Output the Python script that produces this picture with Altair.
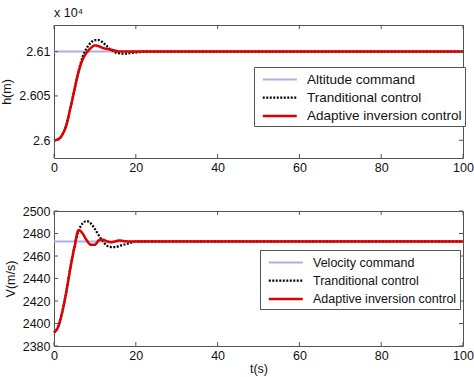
import altair as alt
import pandas as pd

FONT = "Liberation Sans"

# ---------------- data ----------------
t = [0, 1, 2, 3, 4, 5, 6, 7, 8, 9, 10, 11, 12, 13, 14, 15, 16, 17, 18, 19, 20, 21, 22, 23, 24, 25, 100]

# altitude (m)
h_cmd_t = [0, 100]
h_cmd = [26100, 26100]
h_trad = [26000, 26001, 26006, 26017, 26036, 26057, 26078, 26094, 26104, 26110, 26113, 26113, 26110,
          26106, 26102, 26099, 26098, 26097.5, 26098, 26098.5, 26099, 26099.5, 26100, 26100, 26100, 26100, 26100]
h_adap = [26000, 26001, 26006, 26017, 26036, 26057, 26077, 26091, 26099, 26104, 26107, 26106, 26104,
          26103, 26102, 26101, 26100, 26100, 26100, 26100, 26100, 26100, 26100, 26100, 26100, 26100, 26100]

# velocity (m/s)
v_cmd_t = [0, 100]
v_cmd = [2473, 2473]
v_trad = [2392, 2397, 2410, 2428, 2450, 2468, 2482, 2489, 2491, 2489, 2484, 2478, 2473,
          2469, 2468, 2468, 2469, 2470, 2471, 2472, 2473, 2473, 2473, 2473, 2473, 2473, 2473]
v_adap = [2392, 2397, 2410, 2428, 2449, 2468, 2483, 2480, 2474, 2470, 2470, 2474, 2474.5,
          2473, 2472.3, 2473, 2473.8, 2473.3, 2473, 2473, 2473, 2473, 2473, 2473, 2473, 2473, 2473]

x_ticks = [0, 20, 40, 60, 80, 100]
h_ticks = [26000, 26050, 26100]
v_ticks = [2380, 2400, 2420, 2440, 2460, 2480, 2500]

names_h = ["Altitude command", "Tranditional control", "Adaptive inversion control"]
names_v = ["Velocity command", "Tranditional control", "Adaptive inversion control"]
colors = ["#aab0e0", "#000000", "#e00000"]
dashes = [[1, 0], [2, 1.5], [1, 0]]
widths = [2, 2.5, 2.5]

W = 409
AX_FS = 12.5


def panel(names, cmd_t, cmd, trad, adap, y_domain, y_ticks, y_title, H,
          lx, ly, lfs, x_title, label_expr, title=None):
    rows = []
    for tt, vv in zip(cmd_t, cmd):
        rows.append({"t": tt, "y": vv, "series": names[0]})
    for tt, vv in zip(t, trad):
        rows.append({"t": tt, "y": vv, "series": names[1]})
    for tt, vv in zip(t, adap):
        rows.append({"t": tt, "y": vv, "series": names[2]})
    df = pd.DataFrame(rows)

    legend = alt.Legend(orient="none", legendX=lx, legendY=ly, title=None,
                        symbolType="M-0.5,0H3.5", symbolSize=289, labelFontSize=lfs,
                        labelFont=FONT, labelColor="#111", padding=3,
                        strokeColor="#555", fillColor="white", rowPadding=1.5,
                        labelOffset=30, cornerRadius=0, symbolFillColor="transparent")
    xaxis = alt.Axis(values=x_ticks, title=x_title, grid=False, ticks=False,
                     domain=False, labelFontSize=AX_FS, titleFontSize=AX_FS,
                     titleFontWeight="normal", labelPadding=3, titlePadding=1,
                     labelFlush=False)
    yaxis = alt.Axis(values=y_ticks, title=y_title, grid=False, ticks=False,
                     domain=False, labelFontSize=AX_FS, titleFontSize=AX_FS,
                     titleFontWeight="normal", labelPadding=4, titlePadding=5,
                     labelExpr=label_expr)
    xenc = alt.X("t:Q", scale=alt.Scale(domain=[0, 100], nice=False), axis=xaxis)
    yenc = alt.Y("y:Q", scale=alt.Scale(domain=y_domain, nice=False, zero=False), axis=yaxis)
    enc = dict(
        x=xenc,
        y=yenc,
        color=alt.Color("series:N", scale=alt.Scale(domain=names, range=colors), legend=legend),
        strokeDash=alt.StrokeDash("series:N", scale=alt.Scale(domain=names, range=dashes), legend=legend),
        strokeWidth=alt.StrokeWidth("series:N", scale=alt.Scale(domain=names, range=widths), legend=legend),
    )
    base = alt.Chart(df)
    lines = [base.transform_filter(alt.datum.series == n).mark_line(interpolate="monotone").encode(**enc)
             for n in names]

    xt = alt.Chart(pd.DataFrame({"t": x_ticks}))
    yt = alt.Chart(pd.DataFrame({"y": y_ticks}))
    tick_style = dict(color="#555", strokeWidth=1)
    ticks = [
        xt.mark_rule(**tick_style).encode(x=xenc, y=alt.value(H), y2=alt.value(H - 4)),
        xt.mark_rule(**tick_style).encode(x=xenc, y=alt.value(0), y2=alt.value(4)),
        yt.mark_rule(**tick_style).encode(y=yenc, x=alt.value(0), x2=alt.value(4)),
        yt.mark_rule(**tick_style).encode(y=yenc, x=alt.value(W), x2=alt.value(W - 4)),
    ]
    props = dict(width=W, height=H)
    if title is not None:
        props["title"] = alt.TitleParams(title, anchor="start", frame="group", fontSize=12.5,
                                         fontWeight="normal", font=FONT, color="#111", offset=5)
    return alt.layer(*lines, *ticks).properties(**props)


top = panel(names_h, h_cmd_t, h_cmd, h_trad, h_adap, [25980, 26130], h_ticks, "h(m)", 133,
            200, 42, 13.5, None, "datum.value / 10000", title="x 10⁴")
bottom = panel(names_v, v_cmd_t, v_cmd, v_trad, v_adap, [2380, 2500], v_ticks, "V(m/s)", 135,
               206, 39, 12.5, "t(s)", "datum.value")

chart = alt.vconcat(top, bottom, spacing=53, bounds="flush").resolve_scale(
    color="independent", strokeDash="independent", strokeWidth="independent"
).properties(
    padding={"left": 0, "top": 6, "right": 0, "bottom": 0},
    background="white",
).configure_view(stroke="#555", strokeWidth=1).configure_axis(
    labelFont=FONT, titleFont=FONT, labelColor="#111", titleColor="#111"
)

chart.save("out.html", embed_options={"renderer": "svg", "actions": False})
